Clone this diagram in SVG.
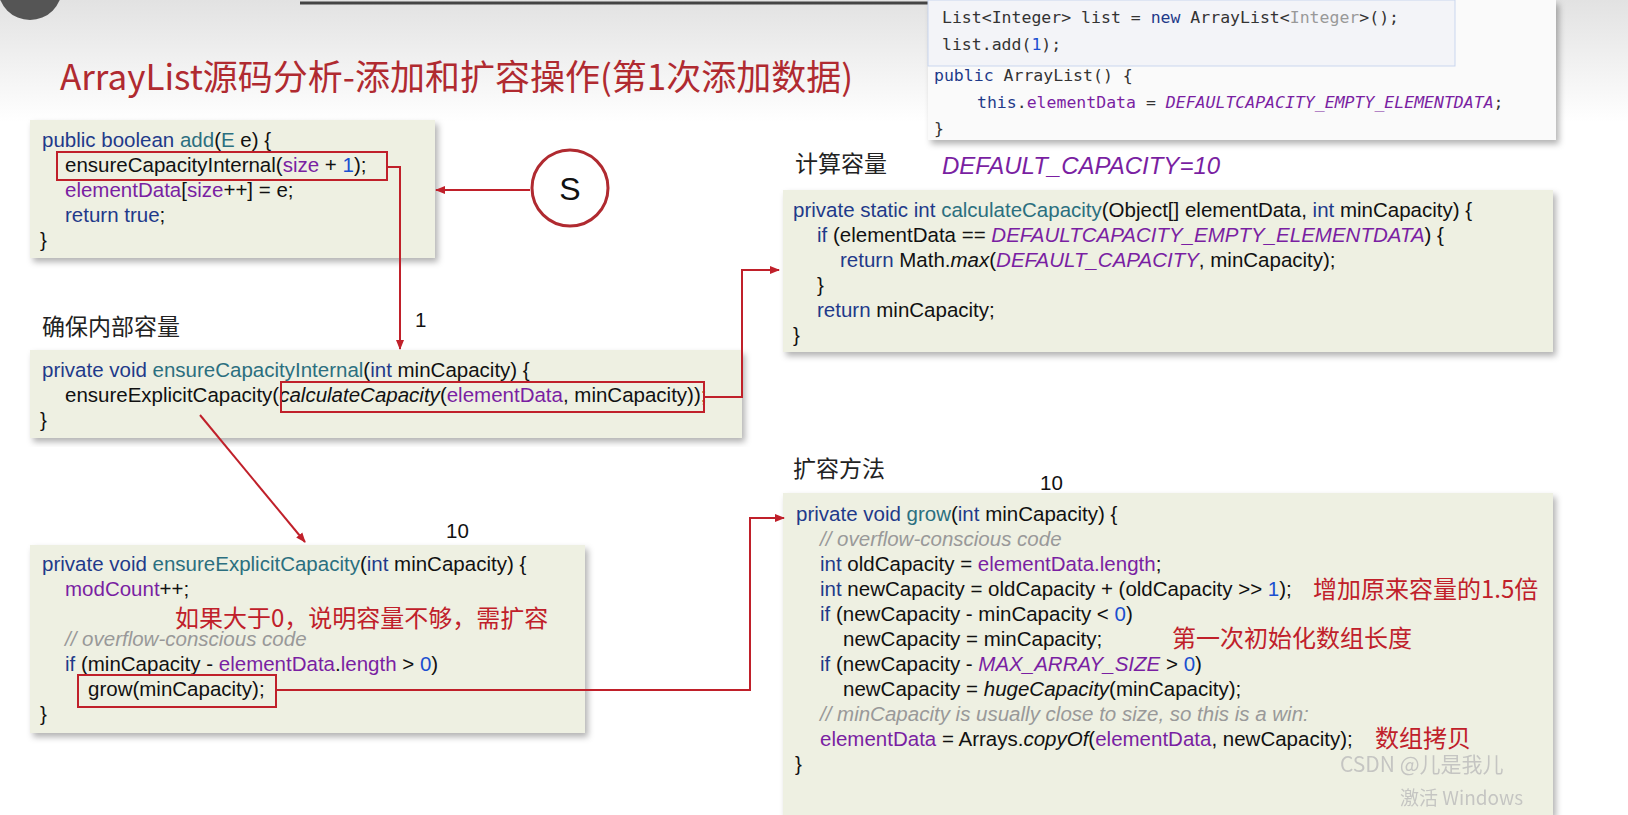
<svg xmlns="http://www.w3.org/2000/svg" width="1628" height="815" viewBox="0 0 1628 815">
<defs>
<linearGradient id="bg" x1="0" y1="0" x2="0" y2="1"><stop offset="0" stop-color="#e2e2e2"/><stop offset="0.15" stop-color="#ffffff"/><stop offset="1" stop-color="#ffffff"/></linearGradient>
<marker id="ah" markerWidth="10" markerHeight="10" refX="9" refY="5" orient="auto" markerUnits="userSpaceOnUse"><path d="M0,1 L10,5 L0,9 z" fill="#c0202a"/></marker>
<filter id="sh" x="-5%" y="-5%" width="112%" height="115%"><feDropShadow dx="3" dy="4" stdDeviation="3" flood-color="#000" flood-opacity="0.3"/></filter>
</defs>
<style>
.box{fill:#eef0e2;filter:url(#sh)}
.c{font-family:"Liberation Sans",Arial,sans-serif;font-size:20.5px;fill:#111}
.k{fill:#1f3a8a}.m{fill:#2b6f7f}.p{fill:#7a1fa2}.n{fill:#1a4fd0}.g{fill:#999;font-style:italic}.i{font-style:italic}
.cn{font-family:"Noto Sans CJK SC","Noto Sans",sans-serif;font-size:23px;fill:#222}
.rn{font-family:"Noto Sans CJK SC","Noto Sans",sans-serif;font-size:24px;fill:#c0202a}
.rb{fill:none;stroke:#c0202a;stroke-width:2}
.ln{fill:none;stroke:#c0202a;stroke-width:2}
.mo{font-family:"DejaVu Sans Mono","Liberation Mono",monospace;font-size:16.5px;fill:#333}
</style>
<rect width="1628" height="815" fill="url(#bg)"/>
<circle cx="30" cy="-12" r="32" fill="#555"/>
<line x1="300" y1="3" x2="930" y2="3" stroke="#444" stroke-width="3"/>
<text x="60" y="90" font-family="'Noto Sans CJK SC','Noto Sans',sans-serif" font-size="35" fill="#b02a30">ArrayList源码分析-添加和扩容操作(第1次添加数据)</text>

<g id="popup">
<rect x="928" y="0" width="628" height="140" fill="#fafafa" filter="url(#sh)"/>
<rect x="928" y="0" width="527" height="66" fill="#f3f4f8" stroke="#c9d6ee"/>
<text class="mo" x="942" y="23">List&lt;Integer&gt; list = <tspan class="k">new</tspan> ArrayList&lt;<tspan style="fill:#999">Integer</tspan>&gt;();</text>
<text class="mo" x="942" y="50">list.add(<tspan class="n">1</tspan>);</text>
<text class="mo" x="934" y="81"><tspan class="k">public</tspan> ArrayList() {</text>
<text class="mo" x="977" y="108"><tspan class="k">this</tspan>.<tspan class="p">elementData</tspan> = <tspan class="p i">DEFAULTCAPACITY_EMPTY_ELEMENTDATA</tspan>;</text>
<text class="mo" x="934" y="134">}</text>
</g>

<g id="add">
<rect class="box" x="30" y="120" width="405" height="138"/>
<text class="c" x="42" y="147"><tspan class="k">public boolean </tspan><tspan class="m">add</tspan>(<tspan class="m">E</tspan> e) {</text>
<text class="c" x="65" y="172">ensureCapacityInternal(<tspan class="p">size</tspan> + <tspan class="n">1</tspan>);</text>
<text class="c" x="65" y="197"><tspan class="p">elementData</tspan>[<tspan class="p">size</tspan>++] = e;</text>
<text class="c" x="65" y="222"><tspan class="k">return true</tspan>;</text>
<text class="c" x="40" y="247">}</text>
<rect class="rb" x="57" y="152" width="330" height="28"/>
</g>

<g id="s">
<circle cx="570" cy="188" r="38" fill="#fff" stroke="#b02a30" stroke-width="3"/>
<text x="570" y="200" text-anchor="middle" font-family="'Liberation Sans',sans-serif" font-size="32" fill="#111">S</text>
</g>

<text class="cn" x="42" y="335">确保内部容量</text>
<g id="internal">
<rect class="box" x="30" y="350" width="712" height="88"/>
<text class="c" x="42" y="377"><tspan class="k">private void </tspan><tspan class="m">ensureCapacityInternal</tspan>(<tspan class="k">int</tspan> minCapacity) {</text>
<text class="c" x="65" y="402">ensureExplicitCapacity(<tspan class="i">calculateCapacity</tspan>(<tspan class="p">elementData</tspan>, minCapacity));</text>
<text class="c" x="40" y="427">}</text>
<rect class="rb" x="281" y="382" width="423" height="30"/>
</g>

<text class="c" x="415" y="327" font-size="22">1</text>
<text class="c" x="446" y="538" font-size="22">10</text>
<g id="explicit">
<rect class="box" x="30" y="545" width="555" height="188"/>
<text class="c" x="42" y="571"><tspan class="k">private void </tspan><tspan class="m">ensureExplicitCapacity</tspan>(<tspan class="k">int</tspan> minCapacity) {</text>
<text class="c" x="65" y="596"><tspan class="p">modCount</tspan>++;</text>
<text class="rn" x="175" y="627">如果大于0，说明容量不够，需扩容</text>
<text class="c g" x="65" y="646">// overflow-conscious code</text>
<text class="c" x="65" y="671"><tspan class="k">if</tspan> (minCapacity - <tspan class="p">elementData</tspan>.<tspan class="p">length</tspan> &gt; <tspan class="n">0</tspan>)</text>
<text class="c" x="88" y="696">grow(minCapacity);</text>
<text class="c" x="40" y="721">}</text>
<rect class="rb" x="78" y="675" width="198" height="32"/>
</g>

<text class="cn" x="795" y="172">计算容量</text>
<text x="942" y="174" font-family="'Liberation Sans',sans-serif" font-size="24" font-style="italic" fill="#7a1fa2">DEFAULT_CAPACITY=10</text>
<g id="calc">
<rect class="box" x="783" y="190" width="770" height="162"/>
<text class="c" x="793" y="217"><tspan class="k">private static int </tspan><tspan class="m">calculateCapacity</tspan>(Object[] elementData, <tspan class="k">int</tspan> minCapacity) {</text>
<text class="c" x="817" y="242"><tspan class="k">if</tspan> (elementData == <tspan class="p i">DEFAULTCAPACITY_EMPTY_ELEMENTDATA</tspan>) {</text>
<text class="c" x="840" y="267"><tspan class="k">return</tspan> Math.<tspan class="i">max</tspan>(<tspan class="p i">DEFAULT_CAPACITY</tspan>, minCapacity);</text>
<text class="c" x="817" y="292">}</text>
<text class="c" x="817" y="317"><tspan class="k">return</tspan> minCapacity;</text>
<text class="c" x="793" y="342">}</text>
</g>

<text class="cn" x="793" y="477">扩容方法</text>
<text class="c" x="1040" y="490" font-size="22">10</text>
<g id="grow">
<rect class="box" x="783" y="493" width="770" height="322"/>
<text class="c" x="796" y="521"><tspan class="k">private void </tspan><tspan class="m">grow</tspan>(<tspan class="k">int</tspan> minCapacity) {</text>
<text class="c g" x="820" y="546">// overflow-conscious code</text>
<text class="c" x="820" y="571"><tspan class="k">int</tspan> oldCapacity = <tspan class="p">elementData.length</tspan>;</text>
<text class="c" x="820" y="596"><tspan class="k">int</tspan> newCapacity = oldCapacity + (oldCapacity &gt;&gt; <tspan class="n">1</tspan>);</text>
<text class="c" x="820" y="621"><tspan class="k">if</tspan> (newCapacity - minCapacity &lt; <tspan class="n">0</tspan>)</text>
<text class="c" x="843" y="646">newCapacity = minCapacity;</text>
<text class="c" x="820" y="671"><tspan class="k">if</tspan> (newCapacity - <tspan class="p i">MAX_ARRAY_SIZE</tspan> &gt; <tspan class="n">0</tspan>)</text>
<text class="c" x="843" y="696">newCapacity = <tspan class="i">hugeCapacity</tspan>(minCapacity);</text>
<text class="c g" x="820" y="721">// minCapacity is usually close to size, so this is a win:</text>
<text class="c" x="820" y="746"><tspan class="p">elementData</tspan> = Arrays.<tspan class="i">copyOf</tspan>(<tspan class="p">elementData</tspan>, newCapacity);</text>
<text class="c" x="795" y="771">}</text>
<text class="rn" x="1313" y="598">增加原来容量的1.5倍</text>
<text class="rn" x="1172" y="647" font-size="23">第一次初始化数组长度</text>
<text class="rn" x="1375" y="747">数组拷贝</text>
</g>

<g id="connectors">
<line class="ln" x1="530" y1="190" x2="436" y2="190" marker-end="url(#ah)"/>
<polyline class="ln" points="387,167 400,167 400,349" marker-end="url(#ah)"/>
<polyline class="ln" points="704,397 742,397 742,270 779,270" marker-end="url(#ah)"/>
<line class="ln" x1="200" y1="415" x2="305" y2="542" marker-end="url(#ah)"/>
<polyline class="ln" points="276,690 750,690 750,518 784,518" marker-end="url(#ah)"/>
</g>
<text x="1340" y="772" font-family="'Noto Sans CJK SC',sans-serif" font-size="21" fill="#bbb" opacity="0.8">CSDN @儿是我儿</text>
<text x="1400" y="805" font-family="'Noto Sans CJK SC',sans-serif" font-size="19" fill="#bbb" opacity="0.8">激活 Windows</text>
</svg>
